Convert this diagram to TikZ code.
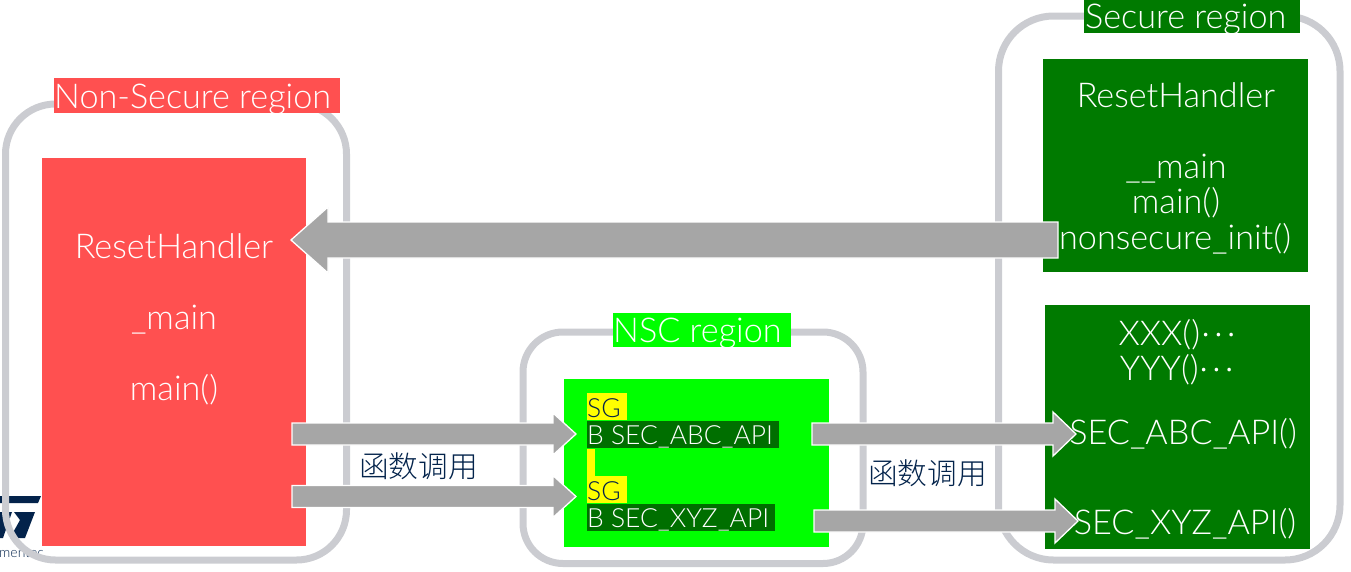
\documentclass[tikz,border=0pt]{standalone}
\usepackage{fontspec}
\setmainfont{Lato Light}
\newfontfamily\cjk{Noto Sans CJK SC}
\newfontfamily\cjklight{Noto Sans CJK SC Light}
\usetikzlibrary{calc}
\definecolor{regionline}{HTML}{CBCCD1}
\definecolor{redfill}{HTML}{FF5050}
\definecolor{greenfill}{HTML}{007A00}
\definecolor{limefill}{HTML}{00FF00}
\definecolor{darkgreen}{HTML}{006F00}
\definecolor{arrowgray}{HTML}{A6A6A6}
\definecolor{navy}{HTML}{03234B}
\definecolor{sgyellow}{HTML}{FFFF00}
\newcommand{\fatarrow}[5]{% start, tip, half shaft, head length (signed), half head
  \draw[fatarrowstyle] ($(#1)+(0,-#3)$) -- ($(#2)+(-#4,-#3)$) -- ($(#2)+(-#4,-#5)$) -- (#2)
    -- ($(#2)+(-#4,#5)$) -- ($(#2)+(-#4,#3)$) -- ($(#1)+(0,#3)$) -- cycle;}
\newcommand{\middots}{\raisebox{8.5pt}{\cjklight ⋯}}
\tikzset{
  x=1pt,y=-1pt,
  regionbox/.style={draw=regionline,line width=7pt,rounded corners=#1},
  fillbox/.style={anchor=north west,inner sep=0pt,outer sep=0pt,fill=#1},
  bodytext/.style={anchor=base,inner sep=0pt,text=white,font=\fontsize{34.2}{38}\selectfont},
  labeltext/.style={anchor=base west,inner sep=0pt,text=white,font=\fontsize{34.2}{38}\selectfont},
  smalltext/.style={anchor=base west,inner sep=0pt,font=\fontsize{26.4}{30}\selectfont},
  calltext/.style={anchor=base west,inner sep=0pt,text=navy,font=\cjklight\fontsize{29.7}{32}\selectfont},
  fatarrowstyle/.style={fill=arrowgray,draw=white,line width=1.3pt,line join=miter}
}
\begin{document}
\begin{tikzpicture}
\useasboundingbox (0,0) rectangle (1351,571);
% logo remnant
\begin{scope}
\clip (0,480) rectangle (42,571);
\fill[navy] (0,496) -- (41,496) -- (38,503) -- (0,503) -- cycle;
\fill[navy] (0,512) -- (12,512) -- (3,538) -- (0,538) -- cycle;
\fill[navy] (14,512) -- (35,512) -- (25,538) -- (10,538) -- (20,520) -- cycle;
\node[anchor=base west,inner sep=0pt,text=navy,font=\fontsize{14}{15}\selectfont] (logotext) at (-1,557) {mented};
\end{scope}
% regions
\node[regionbox=50pt,fillbox=none,fill=none,minimum width=341pt,minimum height=456pt] (nsregion) at (5.5,104) {};
\node[regionbox=40pt,fillbox=none,fill=none,minimum width=340pt,minimum height=231.5pt] (nscregion) at (523,332) {};
\node[regionbox=55pt,fillbox=none,fill=none,minimum width=341.5pt,minimum height=544pt] (secregion) at (998.5,16) {};
% region labels
\node[fillbox=redfill,minimum width=286pt,minimum height=35pt] (nslabelbg) at (54,78) {};
\node[labeltext] (nslabel) at (54,108) {Non-Secure region};
\node[fillbox=limefill,minimum width=178pt,minimum height=34pt] (nsclabelbg) at (613,313) {};
\node[labeltext] (nsclabel) at (613,342) {NSC region};
\node[fillbox=greenfill,minimum width=216pt,minimum height=33pt] (seclabelbg) at (1084,0) {};
\node[labeltext] (seclabel) at (1085,28) {Secure region};
% boxes
\node[fillbox=redfill,minimum width=264pt,minimum height=388pt] (nsbox) at (42,158) {};
\node[fillbox=greenfill,minimum width=265pt,minimum height=213pt] (secboxa) at (1043,59) {};
\node[fillbox=greenfill,minimum width=265pt,minimum height=244pt] (secboxb) at (1045,305) {};
\node[fillbox=limefill,minimum width=265pt,minimum height=168pt] (nscbox) at (564,379) {};
% NSC contents
\node[fillbox=sgyellow,minimum width=40pt,minimum height=27pt] (sgabg) at (587,393) {};
\node[fillbox=darkgreen,minimum width=192pt,minimum height=27pt] (babg) at (587,421) {};
\node[fillbox=sgyellow,minimum width=8pt,minimum height=28pt] (stripe) at (587,449) {};
\node[fillbox=sgyellow,minimum width=40pt,minimum height=27pt] (sgbbg) at (587,476) {};
\node[fillbox=darkgreen,minimum width=188pt,minimum height=27pt] (bbbg) at (587,504) {};
\node[smalltext,text=navy] (sga) at (587,417) {SG};
\node[smalltext,text=white] (ba) at (587,444) {B SEC\_ABC\_API};
\node[smalltext,text=navy] (sgb) at (587,500) {SG};
\node[smalltext,text=white] (bb) at (587,527) {B SEC\_XYZ\_API};
% left texts
\node[bodytext] (nsreset) at (174,258) {ResetHandler};
\node[bodytext] (nsumain) at (174,329) {\_main};
\node[bodytext] (nsmain) at (174,400) {main()};
% secure top texts
\node[bodytext] (sreset) at (1176,107) {ResetHandler};
\node[bodytext] (sumain) at (1176,178) {\_\_main};
\node[bodytext] (smain) at (1176,213) {main()};
\node[bodytext] (sinit) at (1175,249) {nonsecure\_init()};
% secure bottom texts
\node[bodytext] (xxx) at (1177,345) {XXX()\middots};
\node[bodytext] (yyy) at (1177,380) {YYY()\middots};
\node[bodytext] (abc) at (1183,444) {SEC\_ABC\_API()};
\node[bodytext] (xyz) at (1185,534) {SEC\_XYZ\_API()};
% call labels
\node[calltext] (calla) at (359,477) {函数调用};
\node[calltext] (callb) at (868,484) {函数调用};
% connector ends
\coordinate (a1s) at (292,434); \coordinate (a1e) at (576,434);
\coordinate (a2s) at (292,496.5); \coordinate (a2e) at (576,496.5);
\coordinate (a3s) at (812,434); \coordinate (a3e) at (1076,434);
\coordinate (a4s) at (814,521); \coordinate (a4e) at (1078,521);
\coordinate (bigs) at (1058,240); \coordinate (bige) at (291,240);
\fatarrow{a1s}{a1e}{11}{23}{21}
\fatarrow{a2s}{a2e}{11}{23}{21}
\fatarrow{a3s}{a3e}{11}{23}{22}
\fatarrow{a4s}{a4e}{11}{23}{22}
\fatarrow{bigs}{bige}{18}{-37}{33}
\end{tikzpicture}
\end{document}
